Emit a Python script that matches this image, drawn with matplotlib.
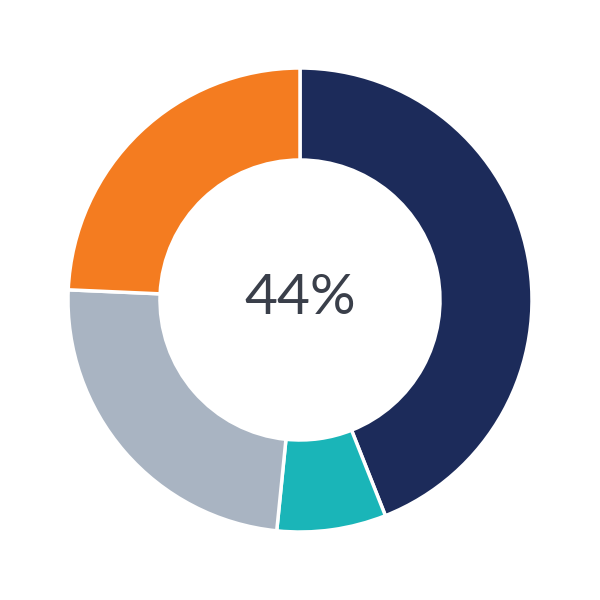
import matplotlib.pyplot as plt

# donut segments, clockwise from 12 o'clock
labels = ['Navy', 'Teal', 'Gray', 'Orange']
shares = [44, 7.6, 24.1, 24.3]
colors = ['#1c2b5a', '#1ab5b8', '#a9b4c2', '#f47c20']
center_text = '44%'

fig = plt.figure(figsize=(6, 6), dpi=100)
ax = fig.add_axes([0, 0, 1, 1])

outer = 232 / 300
inner = 140 / 300
ax.pie(shares, colors=colors, startangle=90, counterclock=False,
       radius=outer,
       wedgeprops=dict(width=outer - inner, edgecolor='white', linewidth=2.5))

ax.text(0, 0.005, center_text, ha='center', va='center', fontsize=41,
        color='#3a3f4a', family=['Lato', 'DejaVu Sans'], fontweight='normal')

ax.set_xlim(-1, 1)
ax.set_ylim(-1, 1)
ax.set_aspect('equal')
ax.axis('off')

plt.savefig('out.png', dpi=100, facecolor='white')
plt.close()
